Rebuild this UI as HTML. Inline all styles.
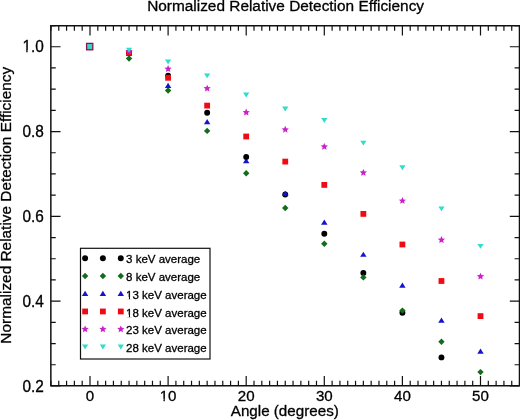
<!DOCTYPE html>
<html><head><meta charset="utf-8"><title>Normalized Relative Detection Efficiency</title>
<style>html,body{margin:0;padding:0;background:#fff;width:520px;height:420px;overflow:hidden}svg{display:block}text{stroke:#000;stroke-width:0.3;stroke-linejoin:round}</style>
</head><body>
<svg width="520" height="420" viewBox="0 0 520 420" font-family="'Liberation Sans', Arial, sans-serif" fill="#000"><path d="M50.85 25.75H519.5V385.65H50.85Z" fill="none" stroke="#111" stroke-width="1.5"/>
<path d="M50.95 385.65v-4.9M50.95 25.75v4.9M58.76 385.65v-4.9M58.76 25.75v4.9M66.57 385.65v-4.9M66.57 25.75v4.9M74.38 385.65v-4.9M74.38 25.75v4.9M82.19 385.65v-4.9M82.19 25.75v4.9M90.00 385.65v-9.7M90.00 25.75v9.7M97.81 385.65v-4.9M97.81 25.75v4.9M105.62 385.65v-4.9M105.62 25.75v4.9M113.43 385.65v-4.9M113.43 25.75v4.9M121.24 385.65v-4.9M121.24 25.75v4.9M129.05 385.65v-4.9M129.05 25.75v4.9M136.86 385.65v-4.9M136.86 25.75v4.9M144.67 385.65v-4.9M144.67 25.75v4.9M152.48 385.65v-4.9M152.48 25.75v4.9M160.29 385.65v-4.9M160.29 25.75v4.9M168.10 385.65v-9.7M168.10 25.75v9.7M175.91 385.65v-4.9M175.91 25.75v4.9M183.72 385.65v-4.9M183.72 25.75v4.9M191.53 385.65v-4.9M191.53 25.75v4.9M199.34 385.65v-4.9M199.34 25.75v4.9M207.15 385.65v-4.9M207.15 25.75v4.9M214.96 385.65v-4.9M214.96 25.75v4.9M222.77 385.65v-4.9M222.77 25.75v4.9M230.58 385.65v-4.9M230.58 25.75v4.9M238.39 385.65v-4.9M238.39 25.75v4.9M246.20 385.65v-9.7M246.20 25.75v9.7M254.01 385.65v-4.9M254.01 25.75v4.9M261.82 385.65v-4.9M261.82 25.75v4.9M269.63 385.65v-4.9M269.63 25.75v4.9M277.44 385.65v-4.9M277.44 25.75v4.9M285.25 385.65v-4.9M285.25 25.75v4.9M293.06 385.65v-4.9M293.06 25.75v4.9M300.87 385.65v-4.9M300.87 25.75v4.9M308.68 385.65v-4.9M308.68 25.75v4.9M316.49 385.65v-4.9M316.49 25.75v4.9M324.30 385.65v-9.7M324.30 25.75v9.7M332.11 385.65v-4.9M332.11 25.75v4.9M339.92 385.65v-4.9M339.92 25.75v4.9M347.73 385.65v-4.9M347.73 25.75v4.9M355.54 385.65v-4.9M355.54 25.75v4.9M363.35 385.65v-4.9M363.35 25.75v4.9M371.16 385.65v-4.9M371.16 25.75v4.9M378.97 385.65v-4.9M378.97 25.75v4.9M386.78 385.65v-4.9M386.78 25.75v4.9M394.59 385.65v-4.9M394.59 25.75v4.9M402.40 385.65v-9.7M402.40 25.75v9.7M410.21 385.65v-4.9M410.21 25.75v4.9M418.02 385.65v-4.9M418.02 25.75v4.9M425.83 385.65v-4.9M425.83 25.75v4.9M433.64 385.65v-4.9M433.64 25.75v4.9M441.45 385.65v-4.9M441.45 25.75v4.9M449.26 385.65v-4.9M449.26 25.75v4.9M457.07 385.65v-4.9M457.07 25.75v4.9M464.88 385.65v-4.9M464.88 25.75v4.9M472.69 385.65v-4.9M472.69 25.75v4.9M480.50 385.65v-9.7M480.50 25.75v9.7M488.31 385.65v-4.9M488.31 25.75v4.9M496.12 385.65v-4.9M496.12 25.75v4.9M503.93 385.65v-4.9M503.93 25.75v4.9M511.74 385.65v-4.9M511.74 25.75v4.9M519.55 385.65v-4.9M519.55 25.75v4.9M50.85 385.95h9.7M519.5 385.95h-9.7M50.85 364.75h4.9M519.5 364.75h-4.9M50.85 343.55h4.9M519.5 343.55h-4.9M50.85 322.35h4.9M519.5 322.35h-4.9M50.85 301.15h9.7M519.5 301.15h-9.7M50.85 279.95h4.9M519.5 279.95h-4.9M50.85 258.75h4.9M519.5 258.75h-4.9M50.85 237.55h4.9M519.5 237.55h-4.9M50.85 216.35h9.7M519.5 216.35h-9.7M50.85 195.15h4.9M519.5 195.15h-4.9M50.85 173.95h4.9M519.5 173.95h-4.9M50.85 152.75h4.9M519.5 152.75h-4.9M50.85 131.55h9.7M519.5 131.55h-9.7M50.85 110.35h4.9M519.5 110.35h-4.9M50.85 89.15h4.9M519.5 89.15h-4.9M50.85 67.95h4.9M519.5 67.95h-4.9M50.85 46.75h9.7M519.5 46.75h-9.7M50.85 25.55h4.9M519.5 25.55h-4.9" stroke="#111" stroke-width="1.2" fill="none"/>
<g><g transform="translate(85.80,401.00) scale(1,1.0)"><text font-size="15.1">0</text></g><g transform="translate(159.70,401.00) scale(1,1.0)"><text font-size="15.1">10</text><rect x="-0.30" y="-2.26" width="4.03" height="3.32" fill="#fff"/><rect x="5.10" y="-2.26" width="3.65" height="3.32" fill="#fff"/></g><g transform="translate(237.80,401.00) scale(1,1.0)"><text font-size="15.1">20</text></g><g transform="translate(315.90,401.00) scale(1,1.0)"><text font-size="15.1">30</text></g><g transform="translate(394.00,401.00) scale(1,1.0)"><text font-size="15.1">40</text></g><g transform="translate(472.10,401.00) scale(1,1.0)"><text font-size="15.1">50</text></g><g transform="translate(22.39,52.45) scale(1,1.03)"><text font-size="15.4">1.0</text><rect x="-0.31" y="-2.31" width="4.11" height="3.39" fill="#fff"/><rect x="5.21" y="-2.31" width="3.73" height="3.39" fill="#fff"/></g><g transform="translate(22.39,137.25) scale(1,1.03)"><text font-size="15.4">0.8</text></g><g transform="translate(22.39,222.05) scale(1,1.03)"><text font-size="15.4">0.6</text></g><g transform="translate(22.39,306.85) scale(1,1.03)"><text font-size="15.4">0.4</text></g><g transform="translate(22.39,391.65) scale(1,1.03)"><text font-size="15.4">0.2</text></g></g>
<text x="285.6" y="11.1" text-anchor="middle" font-size="15.4">Normalized Relative Detection Efficiency</text>
<text x="284.8" y="416.3" text-anchor="middle" font-size="15.2">Angle (degrees)</text>
<text transform="translate(10.9,205.2) rotate(-90)" text-anchor="middle" font-size="15.4">Normalized Relative Detection Efficiency</text>
<rect x="86.60" y="43.40" width="6.2" height="6.4" fill="#3ccfca" stroke="#8a1446" stroke-width="1.3"/><path d="M87.10 44.40L92.30 44.40L89.70 48.90Z" fill="#30dccc"/><circle cx="129.05" cy="53.20" r="2.95" fill="#000000"/><path d="M129.05 55.30L132.25 58.50L129.05 61.70L125.85 58.50Z" fill="#126c1c"/><path d="M129.05 50.70L132.25 55.80L125.85 55.80Z" fill="#1414cc"/><rect x="126.15" y="50.00" width="5.8" height="5.8" fill="#f00a14"/><polygon points="129.05,47.70 130.08,50.08 132.66,50.33 130.71,52.04 131.28,54.57 129.05,53.25 126.82,54.57 127.39,52.04 125.44,50.33 128.02,50.08" fill="#cc20c8"/><path d="M125.95 47.70L132.15 47.70L129.05 52.60Z" fill="#30dccc"/><circle cx="168.10" cy="75.70" r="2.95" fill="#000000"/><path d="M168.10 87.30L171.30 90.50L168.10 93.70L164.90 90.50Z" fill="#126c1c"/><path d="M168.10 82.80L171.30 87.90L164.90 87.90Z" fill="#1414cc"/><rect x="165.20" y="74.90" width="5.8" height="5.8" fill="#f00a14"/><polygon points="168.10,65.10 169.13,67.48 171.71,67.73 169.76,69.44 170.33,71.97 168.10,70.65 165.87,71.97 166.44,69.44 164.49,67.73 167.07,67.48" fill="#cc20c8"/><path d="M165.00 59.60L171.20 59.60L168.10 64.50Z" fill="#30dccc"/><circle cx="207.15" cy="112.80" r="2.95" fill="#000000"/><path d="M207.15 127.70L210.35 130.90L207.15 134.10L203.95 130.90Z" fill="#126c1c"/><path d="M207.15 119.10L210.35 124.20L203.95 124.20Z" fill="#1414cc"/><rect x="204.25" y="102.70" width="5.8" height="5.8" fill="#f00a14"/><polygon points="207.15,84.70 208.18,87.08 210.76,87.33 208.81,89.04 209.38,91.57 207.15,90.25 204.92,91.57 205.49,89.04 203.54,87.33 206.12,87.08" fill="#cc20c8"/><path d="M204.05 73.40L210.25 73.40L207.15 78.30Z" fill="#30dccc"/><path d="M246.20 158.10L249.40 163.20L243.00 163.20Z" fill="#1414cc"/><circle cx="246.20" cy="156.90" r="2.95" fill="#000000"/><path d="M246.20 170.00L249.40 173.20L246.20 176.40L243.00 173.20Z" fill="#126c1c"/><rect x="243.30" y="133.60" width="5.8" height="5.8" fill="#f00a14"/><polygon points="246.20,108.60 247.23,110.98 249.81,111.23 247.86,112.94 248.43,115.47 246.20,114.15 243.97,115.47 244.54,112.94 242.59,111.23 245.17,110.98" fill="#cc20c8"/><path d="M243.10 92.60L249.30 92.60L246.20 97.50Z" fill="#30dccc"/><circle cx="285.25" cy="194.50" r="2.95" fill="#000000"/><path d="M285.25 204.80L288.45 208.00L285.25 211.20L282.05 208.00Z" fill="#126c1c"/><path d="M285.25 190.70L288.45 195.80L282.05 195.80Z" fill="#1414cc"/><rect x="282.35" y="158.70" width="5.8" height="5.8" fill="#f00a14"/><polygon points="285.25,125.80 286.28,128.18 288.86,128.43 286.91,130.14 287.48,132.67 285.25,131.35 283.02,132.67 283.59,130.14 281.64,128.43 284.22,128.18" fill="#cc20c8"/><path d="M282.15 106.50L288.35 106.50L285.25 111.40Z" fill="#30dccc"/><circle cx="324.30" cy="233.80" r="2.95" fill="#000000"/><path d="M324.30 240.60L327.50 243.80L324.30 247.00L321.10 243.80Z" fill="#126c1c"/><path d="M324.30 219.60L327.50 224.70L321.10 224.70Z" fill="#1414cc"/><rect x="321.40" y="182.00" width="5.8" height="5.8" fill="#f00a14"/><polygon points="324.30,142.90 325.33,145.28 327.91,145.53 325.96,147.24 326.53,149.77 324.30,148.45 322.07,149.77 322.64,147.24 320.69,145.53 323.27,145.28" fill="#cc20c8"/><path d="M321.20 118.10L327.40 118.10L324.30 123.00Z" fill="#30dccc"/><circle cx="363.35" cy="273.00" r="2.95" fill="#000000"/><path d="M363.35 274.20L366.55 277.40L363.35 280.60L360.15 277.40Z" fill="#126c1c"/><path d="M363.35 251.70L366.55 256.80L360.15 256.80Z" fill="#1414cc"/><rect x="360.45" y="211.00" width="5.8" height="5.8" fill="#f00a14"/><polygon points="363.35,168.90 364.38,171.28 366.96,171.53 365.01,173.24 365.58,175.77 363.35,174.45 361.12,175.77 361.69,173.24 359.74,171.53 362.32,171.28" fill="#cc20c8"/><path d="M360.25 140.70L366.45 140.70L363.35 145.60Z" fill="#30dccc"/><circle cx="402.40" cy="312.80" r="2.95" fill="#000000"/><path d="M402.40 307.40L405.60 310.60L402.40 313.80L399.20 310.60Z" fill="#126c1c"/><path d="M402.40 282.60L405.60 287.70L399.20 287.70Z" fill="#1414cc"/><rect x="399.50" y="241.60" width="5.8" height="5.8" fill="#f00a14"/><polygon points="402.40,197.00 403.43,199.38 406.01,199.63 404.06,201.34 404.63,203.87 402.40,202.55 400.17,203.87 400.74,201.34 398.79,199.63 401.37,199.38" fill="#cc20c8"/><path d="M399.30 165.30L405.50 165.30L402.40 170.20Z" fill="#30dccc"/><circle cx="441.45" cy="357.40" r="2.95" fill="#000000"/><path d="M441.45 338.60L444.65 341.80L441.45 345.00L438.25 341.80Z" fill="#126c1c"/><path d="M441.45 317.60L444.65 322.70L438.25 322.70Z" fill="#1414cc"/><rect x="438.55" y="278.10" width="5.8" height="5.8" fill="#f00a14"/><polygon points="441.45,236.10 442.48,238.48 445.06,238.73 443.11,240.44 443.68,242.97 441.45,241.65 439.22,242.97 439.79,240.44 437.84,238.73 440.42,238.48" fill="#cc20c8"/><path d="M438.35 206.40L444.55 206.40L441.45 211.30Z" fill="#30dccc"/><path d="M480.50 368.90L483.70 372.10L480.50 375.30L477.30 372.10Z" fill="#126c1c"/><path d="M480.50 348.60L483.70 353.70L477.30 353.70Z" fill="#1414cc"/><rect x="477.60" y="313.20" width="5.8" height="5.8" fill="#f00a14"/><polygon points="480.50,272.70 481.53,275.08 484.11,275.33 482.16,277.04 482.73,279.57 480.50,278.25 478.27,279.57 478.84,277.04 476.89,275.33 479.47,275.08" fill="#cc20c8"/><path d="M477.40 243.90L483.60 243.90L480.50 248.80Z" fill="#30dccc"/>
<rect x="80.5" y="248.3" width="129.5" height="110.69999999999999" fill="#fff" stroke="#111" stroke-width="1.2"/>
<circle cx="85.10" cy="258.30" r="2.95" fill="#000000"/><circle cx="102.90" cy="258.30" r="2.95" fill="#000000"/><circle cx="120.80" cy="258.30" r="2.95" fill="#000000"/><g transform="translate(126.1,263.40)"><text font-size="11.5">3 keV average</text></g><path d="M85.10 272.82L88.30 276.02L85.10 279.22L81.90 276.02Z" fill="#126c1c"/><path d="M102.90 272.82L106.10 276.02L102.90 279.22L99.70 276.02Z" fill="#126c1c"/><path d="M120.80 272.82L124.00 276.02L120.80 279.22L117.60 276.02Z" fill="#126c1c"/><g transform="translate(126.1,281.12)"><text font-size="11.5">8 keV average</text></g><path d="M85.10 290.84L88.30 295.94L81.90 295.94Z" fill="#1414cc"/><path d="M102.90 290.84L106.10 295.94L99.70 295.94Z" fill="#1414cc"/><path d="M120.80 290.84L124.00 295.94L117.60 295.94Z" fill="#1414cc"/><g transform="translate(126.1,298.84)"><text font-size="11.5">13 keV average</text><rect x="-0.23" y="-1.72" width="3.07" height="2.53" fill="#fff"/><rect x="3.89" y="-1.72" width="2.78" height="2.53" fill="#fff"/></g><rect x="82.20" y="308.56" width="5.8" height="5.8" fill="#f00a14"/><rect x="100.00" y="308.56" width="5.8" height="5.8" fill="#f00a14"/><rect x="117.90" y="308.56" width="5.8" height="5.8" fill="#f00a14"/><g transform="translate(126.1,316.56)"><text font-size="11.5">18 keV average</text><rect x="-0.23" y="-1.72" width="3.07" height="2.53" fill="#fff"/><rect x="3.89" y="-1.72" width="2.78" height="2.53" fill="#fff"/></g><polygon points="85.10,325.38 86.13,327.76 88.71,328.01 86.76,329.72 87.33,332.25 85.10,330.93 82.87,332.25 83.44,329.72 81.49,328.01 84.07,327.76" fill="#cc20c8"/><polygon points="102.90,325.38 103.93,327.76 106.51,328.01 104.56,329.72 105.13,332.25 102.90,330.93 100.67,332.25 101.24,329.72 99.29,328.01 101.87,327.76" fill="#cc20c8"/><polygon points="120.80,325.38 121.83,327.76 124.41,328.01 122.46,329.72 123.03,332.25 120.80,330.93 118.57,332.25 119.14,329.72 117.19,328.01 119.77,327.76" fill="#cc20c8"/><g transform="translate(126.1,334.28)"><text font-size="11.5">23 keV average</text></g><path d="M82.00 344.60L88.20 344.60L85.10 349.50Z" fill="#30dccc"/><path d="M99.80 344.60L106.00 344.60L102.90 349.50Z" fill="#30dccc"/><path d="M117.70 344.60L123.90 344.60L120.80 349.50Z" fill="#30dccc"/><g transform="translate(126.1,352.00)"><text font-size="11.5">28 keV average</text></g></svg>
</body></html>
